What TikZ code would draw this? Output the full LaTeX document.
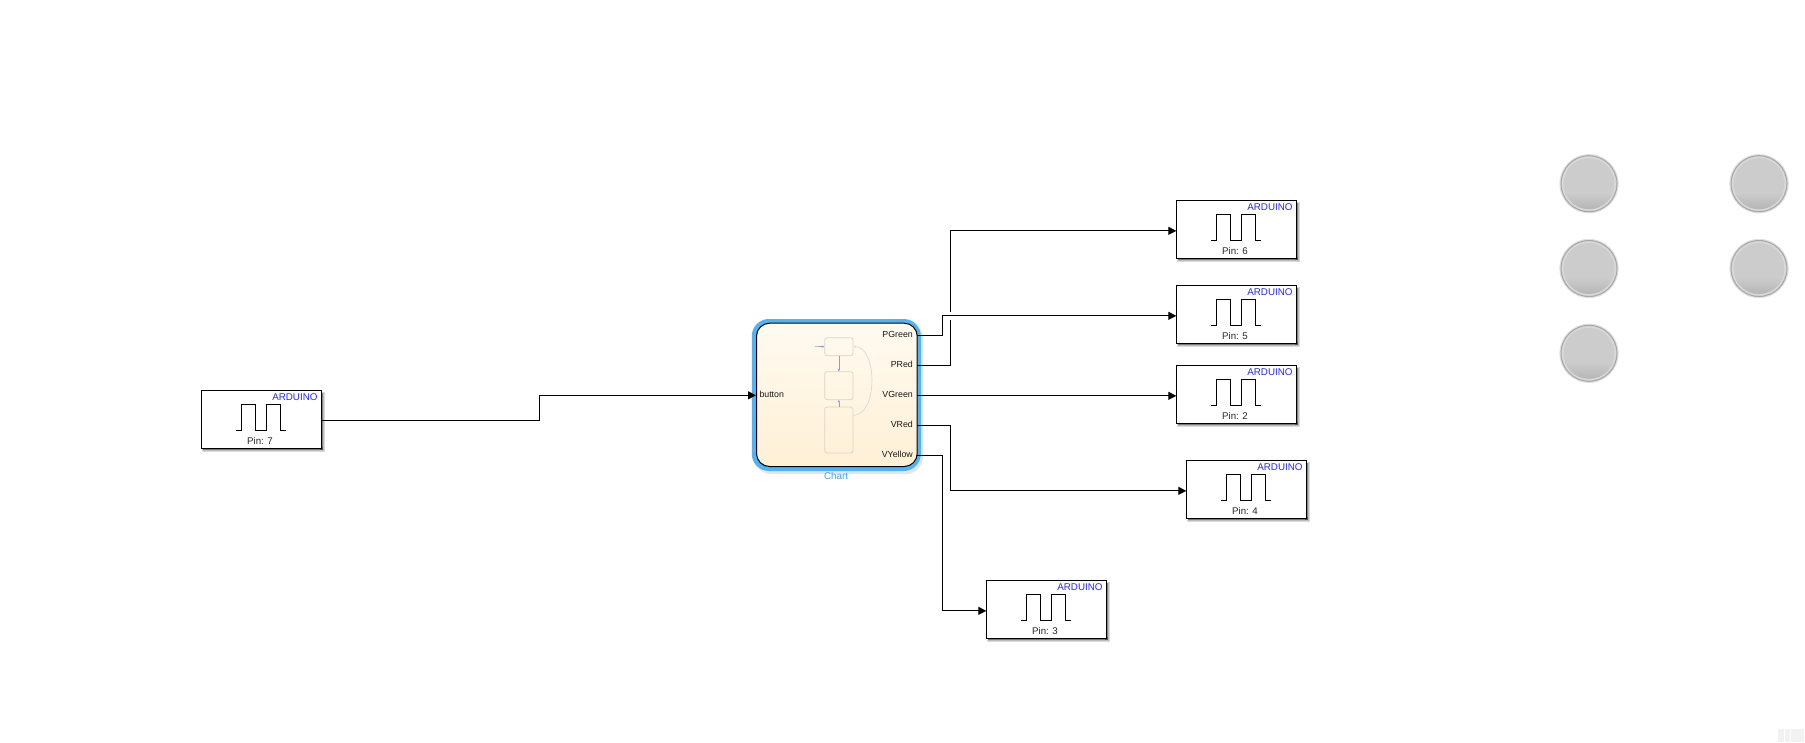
\documentclass[tikz,border=0pt]{standalone}
\usepackage{fontspec}
\setmainfont{Liberation Sans}
\usetikzlibrary{arrows.meta,calc}
\definecolor{ardblue}{HTML}{2A2AE6}
\definecolor{halo}{HTML}{55B2F0}
\definecolor{chartlbl}{HTML}{3FA5F5}
\definecolor{charttop}{HTML}{FFFAF0}
\definecolor{chartbot}{HTML}{FFF0D6}
\definecolor{statecol}{HTML}{DCD3C2}
\definecolor{transcol}{HTML}{8E9CD0}
\definecolor{curvecol}{HTML}{DAD8DC}
\tikzset{
  x=1pt,y=-1pt,
  wire/.style={line width=1pt,black,-{Triangle[length=8pt,width=8pt]}},
  ardblock/.style={draw=black,line width=1.1pt,fill=white,anchor=north west,inner sep=0pt,minimum width=120pt,minimum height=58pt},
  ardshadow/.style={fill=black,opacity=0.14},
  ardtext/.style={inner sep=0pt,text=ardblue,font=\fontsize{9.8}{11}\selectfont,anchor=east},
  pintext/.style={inner sep=0pt,text=black!85,font=\fontsize{9.7}{11}\selectfont},
  porttext/.style={inner sep=0pt,text=black!90,font=\fontsize{8.8}{11}\selectfont},
  pulse/.style={line width=1pt,black},
  statebox/.style={draw=statecol,line width=0.7pt,rounded corners=2.5pt,inner sep=0pt,anchor=north west},
  trans/.style={draw=transcol,line width=0.6pt,-{Stealth[length=2.5pt,width=2.5pt]}},
  lamp/.style={circle,inner sep=0pt,minimum size=56pt,draw=black!34,line width=1pt,fill=black!20},
}
\newcommand{\ardu}[4]{% name, x, y, pin
  \fill[ardshadow] (#2+1,#3+2) rectangle (#2+124,#3+62);
  \fill[ardshadow] (#2+2,#3+3) rectangle (#2+123,#3+61);
  \fill[black,opacity=0.35] (#2+2,#3+57) rectangle (#2+122,#3+60);
  \fill[black,opacity=0.30] (#2+119,#3+3) rectangle (#2+122,#3+60);
  \node[ardblock] (#1) at (#2,#3) {};
  \node[ardtext] (#1title) at (#2+116.4,#3+6.4) {ARDUINO};
  \node[pintext] (#1pin) at (#2+58.7,#3+50.3) {Pin: #4};
  \draw[pulse] (#2+34.7,#3+40) -- (#2+40,#3+40) -- (#2+40,#3+14) -- (#2+54,#3+14) -- (#2+54,#3+40) -- (#2+65,#3+40) -- (#2+65,#3+14) -- (#2+79,#3+14) -- (#2+79,#3+40) -- (#2+85,#3+40);
}
\newcommand{\lampat}[3]{% name, x, y
  \fill[black!12] (#2,#3) circle (29.6);
  \node[lamp] (#1) at (#2,#3) {};
  \begin{scope}
    \clip (#2,#3) circle (27);
    \fill[black!15] (#2,#3) circle (27);
    \clip (#2,#3) circle (25.5);
    \fill[black!20] (#2-30,#3-30) rectangle (#2+30,#3+30);
    \shade[top color=black!20,bottom color=black!29] (#2-30,#3+9) rectangle (#2+30,#3+26);
  \end{scope}
}
\begin{document}
\begin{tikzpicture}
\useasboundingbox (0,0) rectangle (1805,742);
\fill[white] (0,0) rectangle (1805,742);

% Arduino blocks
\ardu{pinseven}{201.3}{390.3}{7}
\ardu{pinsix}{1176.3}{200.3}{6}
\ardu{pinfive}{1176.3}{285.3}{5}
\ardu{pintwo}{1176.3}{365.3}{2}
\ardu{pinfour}{1186.3}{460.3}{4}
\ardu{pinthree}{986.3}{580.3}{3}

% Chart
\fill[black,opacity=0.10,rounded corners=17pt] (754,322) rectangle (923,474);
\fill[halo,rounded corners=17pt] (751.8,319) rectangle (920.8,471);
\node[draw=black,line width=1pt,rounded corners=13pt,top color=charttop,bottom color=chartbot,anchor=north west,inner sep=0pt,minimum width=160.7pt,minimum height=143.3pt] (chart) at (756,322.7) {};
\node[inner sep=0pt,text=chartlbl,font=\fontsize{9.8}{11}\selectfont] (chartlabel) at (836,475.7) {Chart};

% Chart contents
\node[statebox,minimum width=28.4pt,minimum height=18pt] (stateA) at (824.3,337.3) {};
\node[statebox,minimum width=28.4pt,minimum height=28pt] (stateB) at (824.3,371.3) {};
\node[statebox,minimum width=28.4pt,minimum height=46pt] (stateC) at (824.3,406.7) {};
\coordinate (entry) at (815,346.3);
\draw[trans] (entry) -- (stateA.west);
\draw[trans] (stateA.south) -- (stateB.north);
\draw[trans] (stateC.north) -- (stateB.south);
\draw[draw=curvecol,line width=0.7pt,-{Stealth[length=2.5pt,width=2.5pt]}] (852.7,415.5) .. controls (879,415) and (877,346) .. (stateA.east);

% Port labels
\node[porttext,anchor=west] (lbutton) at (759.3,394.5) {button};
\node[porttext,anchor=east] (lpgreen) at (913,334.2) {PGreen};
\node[porttext,anchor=east] (lpred) at (913,364.2) {PRed};
\node[porttext,anchor=east] (lvgreen) at (913,394.2) {VGreen};
\node[porttext,anchor=east] (lvred) at (913,424.2) {VRed};
\node[porttext,anchor=east] (lvyellow) at (913,454.2) {VYellow};

% Chart port points
\coordinate (pbutton) at (756,395.3);
\coordinate (ppgreen) at (917,335);
\coordinate (ppred) at (917,365);
\coordinate (pvgreen) at ($(pintwo.west -| ppgreen)+(0,1)$);
\coordinate (pvred) at (917,425);
\coordinate (pvyellow) at (917,455);

% Connectors: block ports sit 1 px below the block centre
\draw[wire] (ppred) -- (950.7,365) |- ([yshift=-1pt]pinsix.west);
\draw[white,line width=1.6pt] (950.7,311.5) -- (950.7,319.5);
\draw[wire] (ppgreen) -- (942.3,335) |- ([yshift=-1pt]pinfive.west);
\draw[wire] (pvgreen) -- ([yshift=-1pt]pintwo.west);
\draw[wire] (pvred) -- (950.7,425) |- ([yshift=-1pt]pinfour.west);
\draw[wire] (pvyellow) -- (942.3,455) |- ([yshift=-1pt]pinthree.west);
\draw[wire] ([yshift=-1pt]pinseven.east) -| (539,395.3) -- (pbutton);

% Lamps
\lampat{lampA}{1589}{183.7}
\lampat{lampB}{1759}{183.7}
\lampat{lampC}{1589}{268.5}
\lampat{lampD}{1759}{268.5}
\lampat{lampE}{1589}{353.3}

% Faint corner marks
\fill[black!5] (1778,729.3) rectangle (1784,742);
\fill[black!5] (1785,729.3) rectangle (1789.7,742);
\fill[black!5] (1791,729.3) rectangle (1804,742);
\end{tikzpicture}
\end{document}
